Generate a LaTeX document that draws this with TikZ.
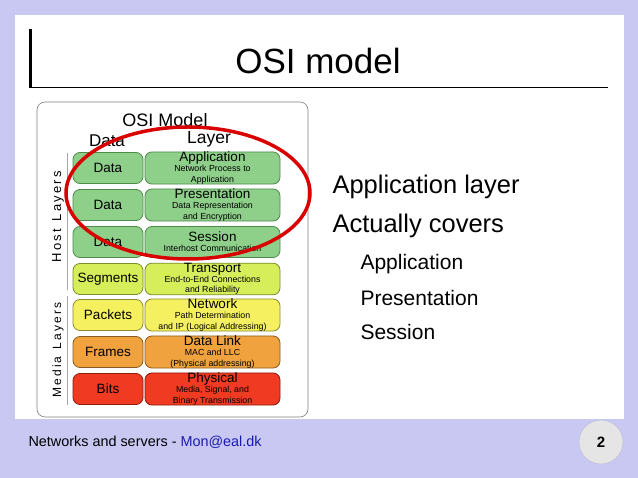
\documentclass[tikz,border=0pt]{standalone}
\usepackage{fontspec}
\setmainfont{Liberation Sans}
\usetikzlibrary{positioning}
\definecolor{lav}{HTML}{C8C8F2}
\definecolor{gA}{HTML}{8ED08A}\definecolor{gAd}{HTML}{4E8A4A}
\definecolor{yg}{HTML}{D6EE5A}\definecolor{ygd}{HTML}{7C8C2A}
\definecolor{yl}{HTML}{F4F060}\definecolor{yld}{HTML}{8C8A2A}
\definecolor{orn}{HTML}{F0A23E}\definecolor{ornd}{HTML}{8C5A1E}
\definecolor{rd}{HTML}{F03A22}\definecolor{rdd}{HTML}{8C1E10}
\definecolor{mail}{HTML}{1A1AB0}
\tikzset{
  fs/.style={font=\fontsize{#1}{#1}\selectfont},
  lbox/.style={draw=#1, line width=0.8pt, rounded corners=7pt, minimum width=70pt, minimum height=31pt, inner sep=0pt},
  rbox/.style={draw=#1, line width=0.8pt, rounded corners=7pt, minimum width=135pt, minimum height=31pt, inner sep=0pt, align=center},
}
\newcommand{\lay}[3]{{\fontsize{13.5}{12}\selectfont #1}\\[-2pt]{\fontsize{8.8}{9}\selectfont #2}\ifx&#3&\else\\[-1.5pt]{\fontsize{8.8}{9}\selectfont #3}\fi}
\begin{document}
\begin{tikzpicture}[x=1pt,y=-1pt]
\useasboundingbox (0,0) rectangle (638,478);
\fill[lav] (0,0) rectangle (638,478);
\fill[white] (15,15) rectangle (624,419);
\draw[line width=3pt] (30,29) -- (30,87);
\draw[line width=0.8pt] (29,87) -- (608,87);
\node[fs=35] (title) at (318,61) {OSI model};
% model frame
\draw[gray, line width=0.6pt, rounded corners=8pt] (37,102) rectangle (308,417);
\node[fs=18] (osi) at (165,120) {OSI Model};
\node[fs=17] (hd) at (107,141) {Data};
\node[fs=17.5] (hl) at (209,139) {Layer};
% rows
\foreach \y/\d/\c/\e/\n [count=\i] in {
 168/Data/gA/gAd/a, 205/Data/gA/gAd/b, 242/Data/gA/gAd/c, 279/Segments/yg/ygd/d,
 315/Packets/yl/yld/e, 352/Frames/orn/ornd/f, 389/Bits/rd/rdd/g}{
  \node[lbox=\e, fill=\c, fs=13.5] (l\n) at (108,\y) {\d};
}
\node[rbox=gAd, fill=gA] (r1) at (212.5,168) {\lay{Application}{Network Process to}{Application}};
\node[rbox=gAd, fill=gA] (r2) at (212.5,205) {\lay{Presentation}{Data Representation}{and Encryption}};
\node[rbox=gAd, fill=gA] (r3) at (212.5,242) {\lay{Session}{Interhost Communication}{}};
\node[rbox=ygd, fill=yg] (r4) at (212.5,279) {\lay{Transport}{End-to-End Connections}{and Reliability}};
\node[rbox=yld, fill=yl] (r5) at (212.5,315) {\lay{Network}{Path Determination}{and IP (Logical Addressing)}};
\node[rbox=ornd, fill=orn] (r6) at (212.5,352) {\lay{Data Link}{MAC and LLC}{(Physical addressing)}};
\node[rbox=rdd, fill=rd] (r7) at (212.5,389) {\lay{Physical}{Media, Signal, and}{Binary Transmission}};
% side labels
\draw[gray!70, line width=1pt] (67,153) -- (67,290);
\draw[gray!70, line width=1pt] (67,296) -- (67,405);
\node[fs=13, rotate=90] (host) at (58,217) {H\,o\,s\,t\, \,L\,a\,y\,e\,r\,s};
\node[fs=12, rotate=90] (media) at (58,350) {M\,e\,d\,i\,a\, \,L\,a\,y\,e\,r\,s};
% red ellipse
\draw[red!85!black, line width=3.5pt] (188,193) ellipse [x radius=122, y radius=66];
% right text
\node[fs=25.5, anchor=west] (t1) at (329,187) {Application layer};
\node[fs=25.5, anchor=west] (t2) at (329,226) {Actually covers};
\node[fs=21, anchor=west] (t3) at (357,264) {Application};
\node[fs=21, anchor=west] (t4) at (357,298) {Presentation};
\node[fs=21, anchor=west] (t5) at (357,332) {Session};
% footer
\node[fs=14.4, anchor=west] (foot) at (25,442) {Networks and servers - \textcolor{mail}{Mon@eal.dk}};
\node[circle, fill=gray!20, draw=lav!80!gray, minimum size=44pt, inner sep=0pt, font=\bfseries\fontsize{15}{15}\selectfont] (pg) at (601,442) {2};
\end{tikzpicture}
\end{document}
